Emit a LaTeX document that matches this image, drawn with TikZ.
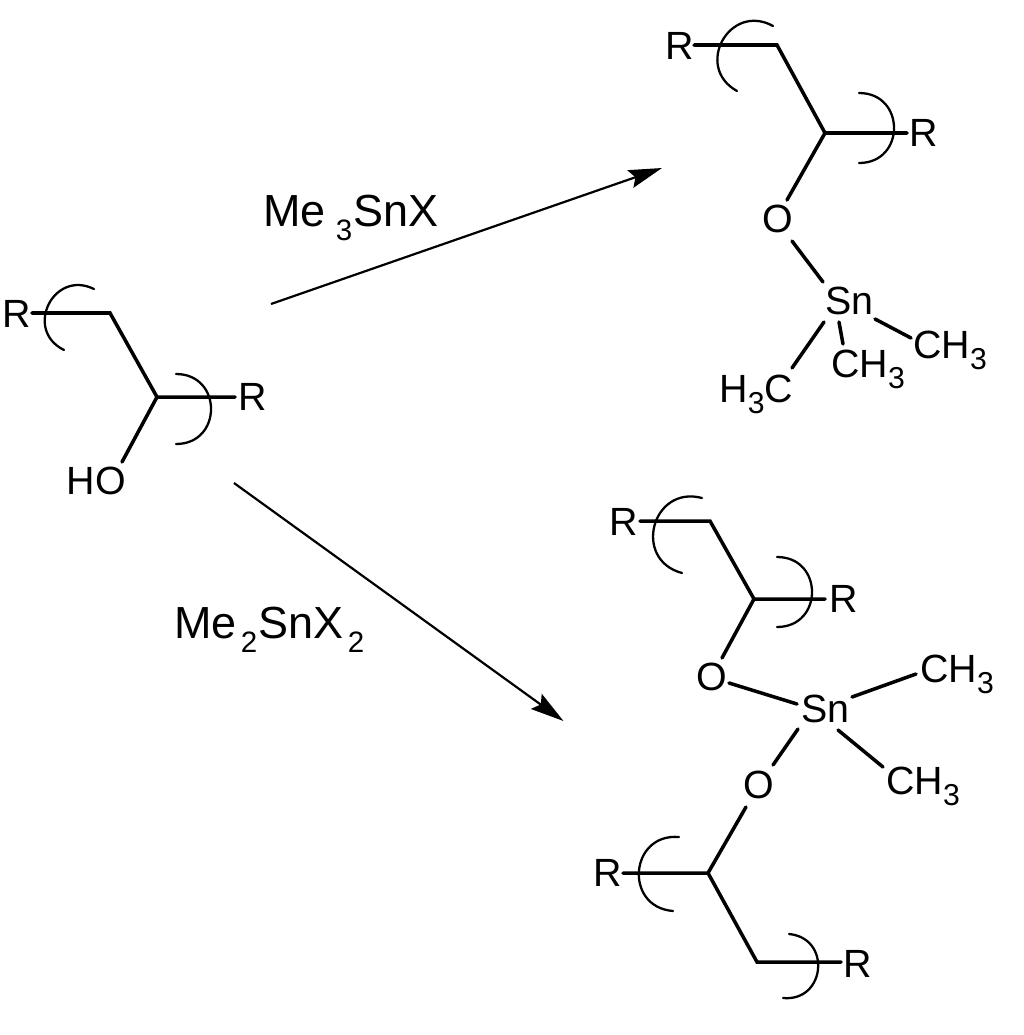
\documentclass[tikz,border=0pt]{standalone}
\usepackage{fontspec}
\setmainfont{Liberation Sans}
\usetikzlibrary{arrows.meta,calc}
\newcommand{\molfont}{\fontsize{22.4}{24}\selectfont}
\newcommand{\subs}[1]{\raisebox{-6.8pt}{\fontsize{17.2}{19}\selectfont #1}}
\newcommand{\rsub}[1]{\raisebox{-8.2pt}{\fontsize{16.8}{19}\selectfont #1}}
\tikzset{
  x=0.02cm,y=-0.02cm,
  atom/.style={inner sep=0pt,anchor=base west,font=\molfont,text=black},
  rxn/.style={inner sep=0pt,anchor=base west,font=\fontsize{25.6}{28}\selectfont,text=black},
  bond/.style={line width=2pt,black,line cap=round,line join=miter},
  bracket/.style={line width=1.3pt,black,line cap=round},
  rxnarrow/.style={line width=1.25pt,black,-{Stealth[length=19pt,width=10.5pt,inset=3pt]}}
}
\begin{document}
\begin{tikzpicture}
\useasboundingbox (0,0) rectangle (1024,1035);
\fill[white] (0,0) rectangle (1024,1035);
% starting alcohol
\node[atom] (r1) at (2,327) {R};
\coordinate (a1) at (110,313);
\coordinate (a2) at (157,397);
\node[atom] (r2) at (238,410) {R};
\node[atom] (ho) at (66.5,494) {HO};
\draw[bond] ($(r1.base west)+(30,-14)$) -- (a1) -- (a2) -- ($(r2.base west)+(-3,-13)$);
\draw[bond] (a2) -- ($(ho.base west)+(55.5,-32)$);
\draw[bracket] (94,289) .. controls (53.4,269) and (23.4,330) .. (64,350);
\draw[bracket] (176,374) .. controls (222.7,374) and (222.7,444) .. (176,444);
% arrows
\coordinate (s1) at (271,304);
\coordinate (e1) at (662,168);
\coordinate (s2) at (234,483);
\coordinate (e2) at (563.5,721);
\draw[rxnarrow] (s1) -- (e1);
\draw[rxnarrow] (s2) -- (e2);
\node[rxn] (m1) at (263,226) {Me\hspace{5.7pt}\rsub{3}\hspace{0.6pt}SnX};
\node[rxn] (m2) at (174,638) {Me\hspace{2.3pt}\rsub{2}\hspace{0.6pt}SnX\hspace{2.5pt}\rsub{2}};
% top product
\node[atom] (t1) at (665,59) {R};
\coordinate (t2) at (777,45);
\coordinate (t3) at (825,133);
\node[atom] (t4) at (909,146) {R};
\node[atom] (to) at (762,232) {O};
\node[atom] (tsn) at (825,314) {Sn};
\node[atom] (tc1) at (913,358) {CH\subs{3}};
\node[atom] (tc2) at (831,377) {CH\subs{3}};
\node[atom] (tc3) at (719,402) {H\subs{3}C};
\draw[bond] ($(t1.base west)+(29,-14)$) -- (t2) -- (t3) -- ($(t4.base west)+(-2,-13)$);
\draw[bond] (t3) -- ($(to.base west)+(25,-32)$);
\draw[bond] ($(to.base west)+(30,9)$) -- ($(tsn.base west)+(-2,-32)$);
\draw[bond] ($(tsn.base west)+(50,5)$) -- ($(tc1.base west)+(-2,-20)$);
\draw[bond] ($(tsn.base west)+(14,8)$) -- ($(tc2.base west)+(12,-33)$);
\draw[bond] ($(tsn.base west)+(-1,8)$) -- ($(tc3.base west)+(73,-34)$);
\draw[bracket] (773,26) .. controls (729.6,2) and (693.6,67) .. (737,91);
\draw[bracket] (859,93) .. controls (905.7,93) and (905.7,163) .. (859,163);
% bottom product
\node[atom] (b1) at (609,535) {R};
\coordinate (b2) at (710,521);
\coordinate (b3) at (754,599);
\node[atom] (b4) at (829,612) {R};
\node[atom] (bo1) at (696,690) {O};
\node[atom] (bsn) at (801,722) {Sn};
\node[atom] (bc1) at (920,682) {CH\subs{3}};
\node[atom] (bc2) at (886,794) {CH\subs{3}};
\node[atom] (bo2) at (743,798) {O};
\coordinate (b5) at (708,873);
\coordinate (b6) at (757,962);
\node[atom] (b7) at (593,886) {R};
\node[atom] (b8) at (843,977) {R};
\draw[bond] ($(b1.base west)+(31,-14)$) -- (b2) -- (b3) -- ($(b4.base west)+(-4,-13)$);
\draw[bond] (b3) -- ($(bo1.base west)+(26,-32)$);
\draw[bond] ($(bo1.base west)+(33,-7)$) -- ($(bsn.base west)+(-4,-18)$);
\draw[bond] ($(bsn.base west)+(51,-25)$) -- ($(bc1.base west)+(-4,-8)$);
\draw[bond] ($(bsn.base west)+(37,8)$) -- ($(bc2.base west)+(-3,-27)$);
\draw[bond] ($(bsn.base west)+(-3,7)$) -- ($(bo2.base west)+(30,-33)$);
\draw[bond] ($(bo2.base west)+(3,9)$) -- (b5);
\draw[bond] ($(b7.base west)+(30,-13)$) -- (b5) -- (b6) -- ($(b8.base west)+(-2,-15)$);
\draw[bracket] (702,498) .. controls (652,484.7) and (632,559.7) .. (682,573);
\draw[bracket] (777,557) .. controls (823.7,557) and (823.7,627) .. (777,627);
\draw[bracket] (679,837) .. controls (629.6,833) and (623.6,907) .. (673,911);
\draw[bracket] (789,934) .. controls (831.7,938) and (825.7,1002) .. (783,998);
\end{tikzpicture}
\end{document}
